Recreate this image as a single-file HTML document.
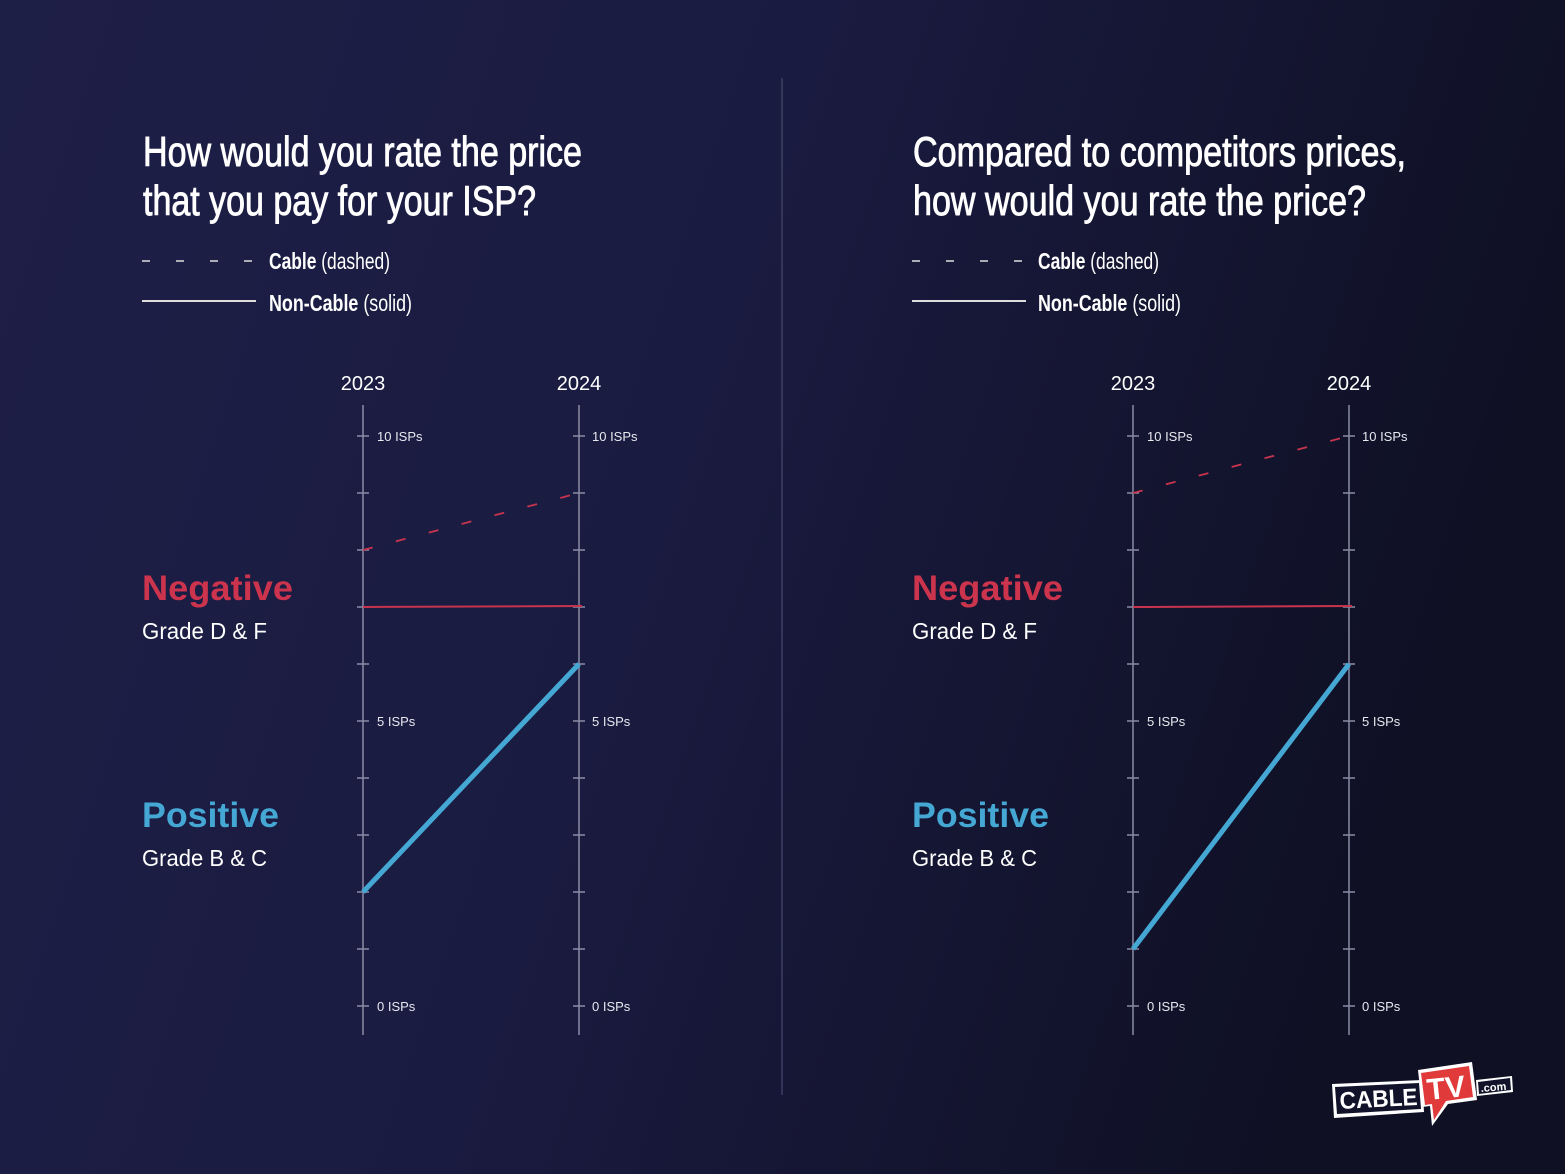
<!DOCTYPE html>
<html><head><meta charset="utf-8"><style>
html,body{margin:0;padding:0;background:#15162f;}
svg{display:block}
</style></head><body>
<svg width="1565" height="1174" viewBox="0 0 1565 1174" xmlns="http://www.w3.org/2000/svg" font-family="Liberation Sans, sans-serif">
<defs>
<linearGradient id="bg" x1="0" y1="0" x2="1" y2="0.25">
<stop offset="0" stop-color="#1e1f47"/>
<stop offset="0.5" stop-color="#1a1b40"/>
<stop offset="1" stop-color="#0f1024"/>
</linearGradient>
</defs>
<rect width="1565" height="1174" fill="url(#bg)"/>
<line x1="782" y1="78" x2="782" y2="1095" stroke="#3d3f62" stroke-width="1.5"/>

<g id="L">
<text x="143" y="166" fill="#fff" stroke="#fff" stroke-width="0.9" font-size="42" textLength="439" lengthAdjust="spacingAndGlyphs">How would you rate the price</text>
<text x="143" y="215" fill="#fff" stroke="#fff" stroke-width="0.9" font-size="42" textLength="393" lengthAdjust="spacingAndGlyphs">that you pay for your ISP?</text>
<line x1="142" y1="261" x2="256" y2="261" stroke="#ddd" stroke-width="1.5" stroke-dasharray="8,26"/>
<text x="269" y="269" fill="#fff" font-size="23" textLength="121" lengthAdjust="spacingAndGlyphs"><tspan font-weight="bold">Cable</tspan> (dashed)</text>
<line x1="142" y1="301" x2="256" y2="301" stroke="#ddd" stroke-width="2"/>
<text x="269" y="311" fill="#fff" font-size="23" textLength="143" lengthAdjust="spacingAndGlyphs"><tspan font-weight="bold">Non-Cable</tspan> (solid)</text>
<text x="142" y="600" fill="#cc344e" font-size="35" font-weight="bold" textLength="151" lengthAdjust="spacingAndGlyphs">Negative</text>
<text x="142" y="639" fill="#fff" font-size="23" textLength="125" lengthAdjust="spacingAndGlyphs">Grade D &amp; F</text>
<text x="142" y="827" fill="#45a8d4" font-size="35" font-weight="bold" textLength="137" lengthAdjust="spacingAndGlyphs">Positive</text>
<text x="142" y="866" fill="#fff" font-size="23" textLength="125" lengthAdjust="spacingAndGlyphs">Grade B &amp; C</text>
</g>

<g transform="translate(770,0)">
<text x="143" y="166" fill="#fff" stroke="#fff" stroke-width="0.9" font-size="42" textLength="493" lengthAdjust="spacingAndGlyphs">Compared to competitors prices,</text>
<text x="143" y="215" fill="#fff" stroke="#fff" stroke-width="0.9" font-size="42" textLength="453" lengthAdjust="spacingAndGlyphs">how would you rate the price?</text>
<line x1="142" y1="261" x2="256" y2="261" stroke="#ddd" stroke-width="1.5" stroke-dasharray="8,26"/>
<text x="268" y="269" fill="#fff" font-size="23" textLength="121" lengthAdjust="spacingAndGlyphs"><tspan font-weight="bold">Cable</tspan> (dashed)</text>
<line x1="142" y1="301" x2="256" y2="301" stroke="#ddd" stroke-width="2"/>
<text x="268" y="311" fill="#fff" font-size="23" textLength="143" lengthAdjust="spacingAndGlyphs"><tspan font-weight="bold">Non-Cable</tspan> (solid)</text>
<text x="142" y="600" fill="#cc344e" font-size="35" font-weight="bold" textLength="151" lengthAdjust="spacingAndGlyphs">Negative</text>
<text x="142" y="639" fill="#fff" font-size="23" textLength="125" lengthAdjust="spacingAndGlyphs">Grade D &amp; F</text>
<text x="142" y="827" fill="#45a8d4" font-size="35" font-weight="bold" textLength="137" lengthAdjust="spacingAndGlyphs">Positive</text>
<text x="142" y="866" fill="#fff" font-size="23" textLength="125" lengthAdjust="spacingAndGlyphs">Grade B &amp; C</text>
</g>

<g stroke="#8a8ca6" stroke-width="1.5">
<line x1="363" y1="405" x2="363" y2="1035"/><line x1="579" y1="405" x2="579" y2="1035"/>
<line x1="1133" y1="405" x2="1133" y2="1035"/><line x1="1349" y1="405" x2="1349" y2="1035"/>
</g>
<g stroke="#8a8ca6" stroke-width="1.5">
<path d="M357 436h12M357 493h12M357 550h12M357 607h12M357 664h12M357 721h12M357 778h12M357 835h12M357 892h12M357 949h12M357 1006h12"/>
<path d="M573 436h12M573 493h12M573 550h12M573 607h12M573 664h12M573 721h12M573 778h12M573 835h12M573 892h12M573 949h12M573 1006h12"/>
<path d="M1127 436h12M1127 493h12M1127 550h12M1127 607h12M1127 664h12M1127 721h12M1127 778h12M1127 835h12M1127 892h12M1127 949h12M1127 1006h12"/>
<path d="M1343 436h12M1343 493h12M1343 550h12M1343 607h12M1343 664h12M1343 721h12M1343 778h12M1343 835h12M1343 892h12M1343 949h12M1343 1006h12"/>
</g>
<g fill="#fff" font-size="20" text-anchor="middle">
<text x="363" y="390">2023</text><text x="579" y="390">2024</text>
<text x="1133" y="390">2023</text><text x="1349" y="390">2024</text>
</g>
<g fill="#e8e8f0" font-size="13">
<text x="377" y="441">10 ISPs</text><text x="377" y="726">5 ISPs</text><text x="377" y="1011">0 ISPs</text>
<text x="592" y="441">10 ISPs</text><text x="592" y="726">5 ISPs</text><text x="592" y="1011">0 ISPs</text>
<text x="1147" y="441">10 ISPs</text><text x="1147" y="726">5 ISPs</text><text x="1147" y="1011">0 ISPs</text>
<text x="1362" y="441">10 ISPs</text><text x="1362" y="726">5 ISPs</text><text x="1362" y="1011">0 ISPs</text>
</g>

<g fill="none" stroke-linecap="butt">
<line x1="363" y1="550" x2="579" y2="493" stroke="#c8344e" stroke-width="1.8" stroke-dasharray="10,24"/>
<line x1="363" y1="607" x2="582" y2="606" stroke="#c8344e" stroke-width="2"/>
<line x1="363" y1="892" x2="579" y2="664" stroke="#45a8d4" stroke-width="5"/>
<line x1="1133" y1="493" x2="1349" y2="436" stroke="#c8344e" stroke-width="1.8" stroke-dasharray="10,24"/>
<line x1="1133" y1="607" x2="1352" y2="606" stroke="#c8344e" stroke-width="2"/>
<line x1="1133" y1="949" x2="1349" y2="664" stroke="#45a8d4" stroke-width="5"/>
</g>

<g transform="translate(1330,1062)">
<polygon points="2,22 92,18 94,50 4,56" fill="#fff"/>
<polygon points="5,25 89,21 91,47 7,52" fill="#12132a"/>
<text x="10" y="47" fill="#fff" font-size="24" font-weight="bold" transform="rotate(-3 10 47)" textLength="78" lengthAdjust="spacingAndGlyphs">CABLE</text>
<polygon points="88,8 142,0 147,38 118,42 102,64 100,44 92,45" fill="#fff"/>
<polygon points="91,11 139,4 143,35 116,39 104,58 102,42 95,43" fill="#e03a3a"/>
<text x="98" y="38" fill="#fff" font-size="30" font-weight="bold" transform="rotate(-6 98 38)">TV</text>
<polygon points="146,18 182,14 183,30 147,34" fill="#fff"/>
<polygon points="148,20 180,16 181,28 149,32" fill="#12132a"/>
<text x="151" y="30" fill="#fff" font-size="11" font-weight="bold" transform="rotate(-5 151 30)">.com</text>
</g>
</svg>
</body></html>
